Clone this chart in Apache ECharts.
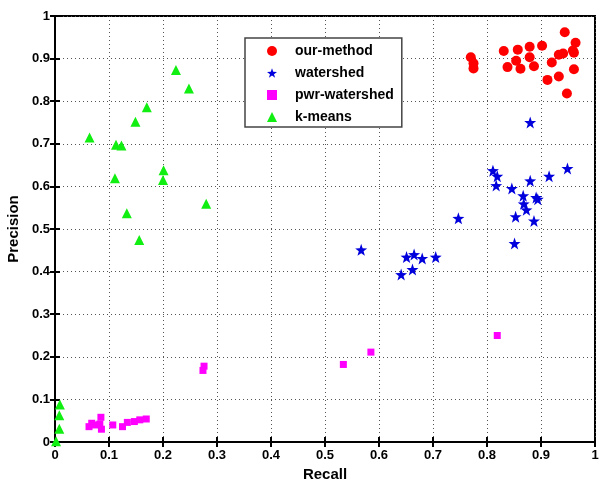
<!DOCTYPE html>
<html lang="en">
<head>
    <meta charset="UTF-8">
    <title>Precision vs Recall</title>
    <script src="https://cdn.jsdelivr.net/npm/echarts@6/dist/echarts.min.js"></script>
    <style>
        html, body, #chart {
            width: 606px;
            height: 488px;
            padding: 0;
            margin: 0;
            background: #fff;
        }
    </style>
</head>
<body>
<div id="chart"></div>
<script>
    // [recall, precision] pairs
    var ourMethod = [
        [0.944, 0.962], [0.964, 0.937], [0.831, 0.918], [0.857, 0.921], [0.879, 0.928],
        [0.902, 0.930], [0.770, 0.903], [0.775, 0.889], [0.775, 0.877], [0.854, 0.895],
        [0.879, 0.903], [0.933, 0.909], [0.941, 0.912], [0.959, 0.919], [0.961, 0.914],
        [0.920, 0.891], [0.838, 0.880], [0.862, 0.876], [0.887, 0.882], [0.961, 0.875],
        [0.912, 0.850], [0.933, 0.858], [0.948, 0.818]
    ];
    var watershed = [
        [0.880, 0.750], [0.949, 0.642], [0.915, 0.624], [0.811, 0.637], [0.819, 0.624],
        [0.817, 0.602], [0.880, 0.613], [0.846, 0.595], [0.867, 0.578], [0.891, 0.574],
        [0.894, 0.570], [0.868, 0.559], [0.873, 0.545], [0.853, 0.529], [0.887, 0.519],
        [0.747, 0.525], [0.851, 0.466], [0.567, 0.451], [0.651, 0.434], [0.665, 0.440],
        [0.680, 0.431], [0.705, 0.434], [0.662, 0.405], [0.641, 0.393]
    ];
    var pwrWatershed = [
        [0.063, 0.036], [0.068, 0.044], [0.074, 0.040], [0.085, 0.058], [0.083, 0.042],
        [0.086, 0.030], [0.107, 0.040], [0.125, 0.036], [0.134, 0.046], [0.147, 0.048],
        [0.157, 0.052], [0.169, 0.054], [0.276, 0.178], [0.274, 0.168], [0.534, 0.182],
        [0.585, 0.211], [0.819, 0.250]
    ];
    var kMeans = [
        [0.224, 0.873], [0.248, 0.830], [0.170, 0.786], [0.149, 0.752], [0.064, 0.715],
        [0.113, 0.698], [0.123, 0.696], [0.111, 0.619], [0.201, 0.638], [0.200, 0.615],
        [0.280, 0.559], [0.133, 0.537], [0.156, 0.474], [0.009, 0.088], [0.008, 0.063],
        [0.008, 0.031], [0.002, 0.002]
    ];
    var seriesNames = ["our-method", "watershed", "pwr-watershed", "k-means"];

    var starPath = "path://M0,-10L2.35,-3.24L9.51,-3.09L3.8,1.24L5.88,8.09L0,4L-5.88,8.09L-3.8,1.24L-9.51,-3.09L-2.35,-3.24Z";
    var font = "'Liberation Sans', Arial, sans-serif";

    function tickLabel(v) {
        if (v === 0) return "0";
        if (v === 1) return "1";
        return v.toFixed(1);
    }

    var dotted = {show: true, lineStyle: {color: "#555", width: 1, type: [1, 3]}};
    var tick = {show: true, inside: true, length: 5, lineStyle: {color: "#000", width: 2}};

    var myChart = echarts.init(document.getElementById("chart"));
    myChart.setOption({
        animation: false,
        backgroundColor: "#fff",
        grid: {
            left: 55, right: 11, top: 16, bottom: 46,
            outerBoundsMode: "none",
            show: true, borderColor: "#000", borderWidth: 2
        },
        legend: {
            orient: "vertical",
            left: 245,
            top: 38,
            data: [
                {name: seriesNames[0], icon: "circle"},
                {name: seriesNames[1], icon: starPath},
                {name: seriesNames[2], icon: "rect"},
                {name: seriesNames[3], icon: "triangle"}
            ],
            backgroundColor: "#fff",
            borderColor: "#444",
            borderWidth: 1.5,
            padding: [6, 8, 3, 22],
            itemWidth: 10,
            itemHeight: 10,
            itemGap: 8,
            textStyle: {fontFamily: font, fontWeight: "bold", fontSize: 14, color: "#000", padding: [0, 0, 0, 13]}
        },
        xAxis: [{
            type: "value", min: 0, max: 1, interval: 0.1,
            name: "Recall", nameLocation: "middle", nameGap: 22,
            nameTextStyle: {fontFamily: font, fontWeight: "bold", fontSize: 15, color: "#000"},
            axisLine: {show: true, lineStyle: {color: "#000", width: 2}},
            axisTick: tick,
            axisLabel: {formatter: tickLabel, margin: 7, fontFamily: font, fontWeight: "bold", fontSize: 13, color: "#000"},
            splitLine: dotted
        }, {
            type: "value", position: "top", min: 0, max: 1, interval: 0.1,
            axisLine: {show: false}, axisTick: tick, axisLabel: {show: false}, splitLine: {show: false}
        }],
        yAxis: [{
            type: "value", min: 0, max: 1, interval: 0.1,
            name: "Precision", nameLocation: "middle", nameGap: 34,
            nameTextStyle: {fontFamily: font, fontWeight: "bold", fontSize: 15, color: "#000"},
            axisLine: {show: true, lineStyle: {color: "#000", width: 2}},
            axisTick: tick,
            axisLabel: {formatter: tickLabel, margin: 5, fontFamily: font, fontWeight: "bold", fontSize: 13, color: "#000"},
            splitLine: dotted
        }, {
            type: "value", position: "right", min: 0, max: 1, interval: 0.1,
            axisLine: {show: false}, axisTick: tick, axisLabel: {show: false}, splitLine: {show: false}
        }],
        series: [{
            name: seriesNames[0], type: "scatter", data: ourMethod,
            symbol: "circle", symbolSize: 10,
            itemStyle: {color: "#ff0000", opacity: 1}
        }, {
            name: seriesNames[1], type: "scatter", data: watershed,
            symbol: starPath, symbolSize: 12,
            itemStyle: {color: "#0000dd", opacity: 1}
        }, {
            name: seriesNames[2], type: "scatter", data: pwrWatershed,
            symbol: "rect", symbolSize: 7,
            itemStyle: {color: "#ff00ff", opacity: 1}
        }, {
            name: seriesNames[3], type: "scatter", data: kMeans,
            symbol: "triangle", symbolSize: 10,
            itemStyle: {color: "#11ee11", opacity: 1}
        }]
    });
</script>
</body>
</html>
